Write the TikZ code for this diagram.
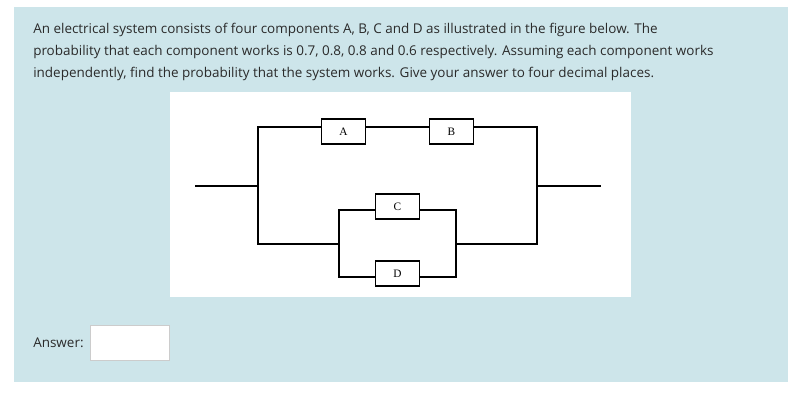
\documentclass[tikz,border=0pt]{standalone}
\usepackage{fontspec}
\setmainfont{Open Sans}
\newfontfamily\serifb{Liberation Serif}
\definecolor{panel}{HTML}{CDE5EA}
\definecolor{txt}{HTML}{2A2A2A}
\begin{document}
\begin{tikzpicture}[x=0.75pt,y=-0.75pt,
  wire/.style={line width=1.4pt,line cap=rect},
  comp/.style={draw,line width=1.4pt,fill=white,minimum width=33pt,minimum height=18.5pt,inner sep=0pt,font=\serifb\fontsize{8.5}{9}\selectfont},
  line/.style={anchor=west,inner sep=0pt,text=txt,font=\fontsize{10.1}{12}\selectfont}]
\useasboundingbox (0,0) rectangle (799,404);
\fill[white] (0,0) rectangle (799,404);
\fill[panel] (14,7) rectangle (788,382);
\node[line] (l1) at (33,30) {An electrical system consists of four components A, B, C and D as illustrated in the figure below. The};
\node[line] (l2) at (33,52) {probability that each component works is 0.7, 0.8, 0.8 and 0.6 respectively. Assuming each component works};
\node[line] (l3) at (33,74) {independently, find the probability that the system works. Give your answer to four decimal places.};
\fill[white] (170,92) rectangle (631,297);
\coordinate (in) at (196,186);
\coordinate (jl) at (258,186);
\coordinate (tl) at (258,127);
\coordinate (bl) at (258,244);
\coordinate (jr) at (537,186);
\coordinate (tr) at (537,127);
\coordinate (br) at (537,244);
\coordinate (out) at (600,186);
\coordinate (il) at (339,244);
\coordinate (itl) at (339,210);
\coordinate (ibl) at (339,277);
\coordinate (ir) at (456,244);
\coordinate (itr) at (456,210);
\coordinate (ibr) at (456,277);
\draw[wire] (in) -- (jl) (tl) -- (bl) (jr) -- (out) (tr) -- (br);
\draw[wire] (tl) -- (tr) (bl) -- (il) (ir) -- (br) (itl) -- (ibl) (itr) -- (ibr) (itl) -- (itr) (ibl) -- (ibr);
\node[comp] (A) at (343.5,131.5) {A};
\node[comp] (B) at (451.5,131.5) {B};
\node[comp] (C) at (397.5,206.5) {C};
\node[comp] (D) at (397.5,273.5) {D};
\node[line] (ans) at (33,343) {Answer:};
\draw[draw=gray!40,fill=white] (90,325) rectangle (169,360);
\end{tikzpicture}
\end{document}
